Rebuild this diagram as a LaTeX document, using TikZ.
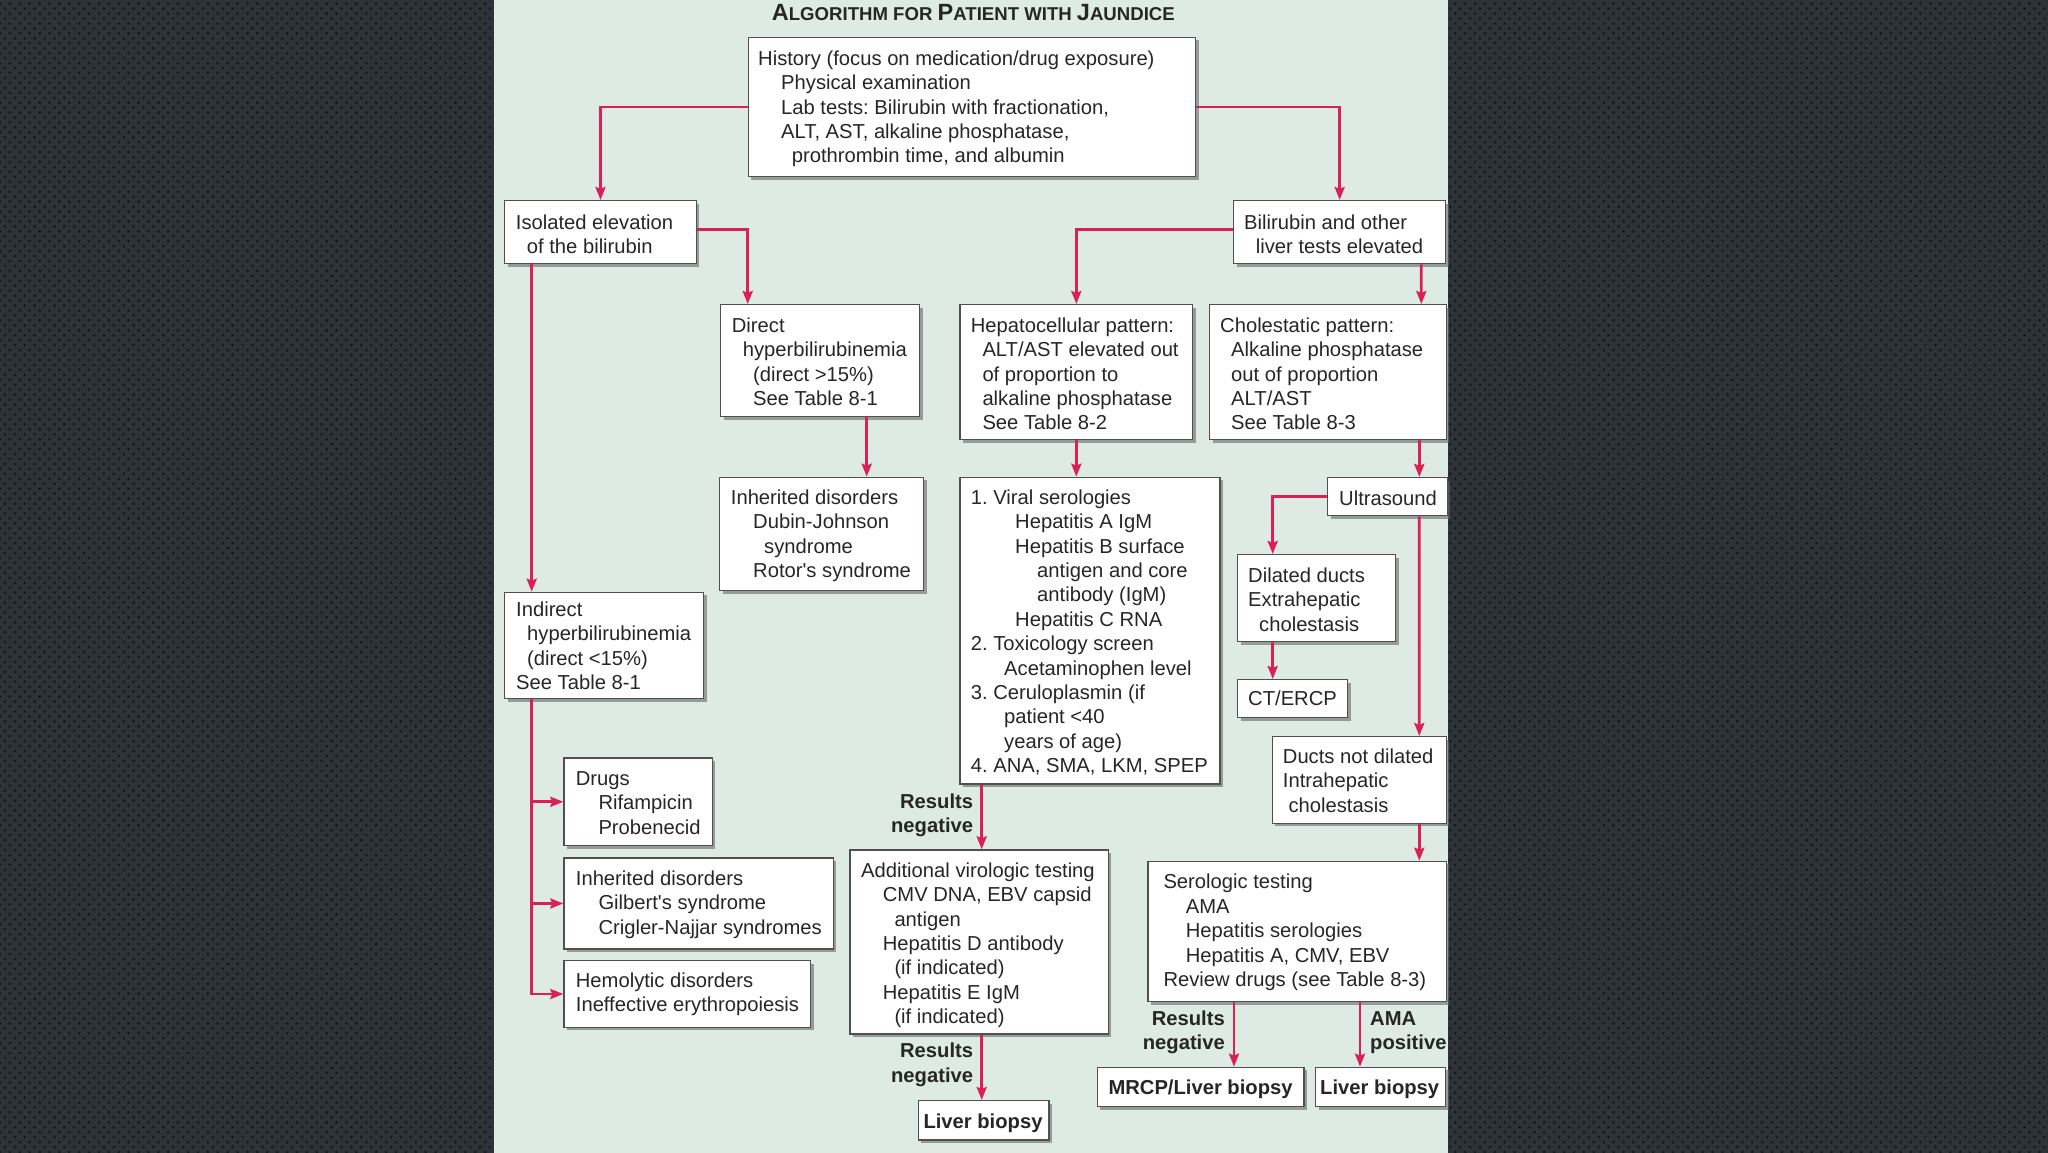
\documentclass[tikz,border=0pt]{standalone}
\usepackage{fontspec}
\setmainfont{Liberation Sans}[Ligatures=TeXOff]
\usetikzlibrary{arrows.meta,shadows,patterns.meta,calc}
\definecolor{bgdark}{RGB}{46,50,57}
\definecolor{dotc}{RGB}{24,27,32}
\definecolor{panel}{RGB}{221,235,228}
\definecolor{arrc}{RGB}{218,32,84}
\definecolor{txtc}{RGB}{38,38,38}
\definecolor{boxc}{RGB}{80,80,80}
\newcommand\fsn{\fontsize{20.2}{24.4}\selectfont}
\newcommand\ind[1]{\hspace*{#1pt}}
\newcommand\bigc[1]{{\fontsize{23.5}{24}\selectfont #1}}
\newcommand\bx[5]{\node[box, minimum width={#4-#2}, minimum height={#5-#3}] (#1) at (#2,#3) {};}
\frenchspacing
\begin{document}
\begin{tikzpicture}[x=1pt,y=-1pt,
  box/.style={draw=boxc, line width=1.3pt, fill=white, inner sep=0pt, anchor=north west,
    drop shadow={shadow xshift=3pt, shadow yshift=-3pt, fill=black!60, opacity=0.6}},
  txt/.style={anchor=north west, inner sep=0pt, align=left, font=\fsn, text=txtc, yshift=17.08pt},
  btxt/.style={txt, font=\fsn\bfseries},
  lbl/.style={inner sep=0pt, font=\fsn\bfseries, text=txtc, yshift=17.08pt},
  arr/.style={draw=arrc, line width=2.8pt, -{Stealth[length=13pt,width=10pt,inset=2pt]}}]
\useasboundingbox (0,0) rectangle (2048,1152);
\fill[bgdark] (-20,-20) rectangle (2068,1172);
\fill[pattern={Dots[distance=7pt,radius=1.7pt,angle=45]}, pattern color=dotc] (-20,-20) rectangle (2068,1172);
\fill[panel] (494,-5) rectangle (1448,1160);

\node[anchor=base west, inner sep=0pt, text=txtc, font=\bfseries\fontsize{18.6}{24}\selectfont] (title) at (771.7,20)
  {\bigc{A}LGORITHM FOR \bigc{P}ATIENT WITH \bigc{J}AUNDICE};

% boxes
\bx{hist}{747.7}{36.7}{1195}{176}
\bx{iso}{504}{200}{695.7}{263}
\bx{bil}{1233}{200}{1445}{263}
\bx{direct}{720}{304}{919}{416}
\bx{inhA}{719}{476.7}{923}{590}
\bx{indirect}{504}{591.7}{703}{698}
\bx{hep}{959.3}{304}{1192}{439}
\bx{chol}{1209}{304}{1445.7}{439}
\bx{viral}{959.3}{476.7}{1219.3}{783.3}
\bx{us}{1327}{477}{1446.7}{515}
\bx{dil}{1237}{554}{1395}{641}
\bx{ct}{1237}{679}{1347}{717}
\bx{notdil}{1271.7}{736}{1445.7}{822.7}
\bx{drugs}{563.3}{757.3}{711.7}{845}
\bx{inhB}{563.3}{857.3}{832.7}{948.3}
\bx{hemo}{563.3}{960}{810}{1026.7}
\bx{addl}{849.3}{849.3}{1107.7}{1033.3}
\bx{lbA}{917.7}{1100}{1048.3}{1139.3}
\bx{serol}{1147.3}{860.7}{1445.7}{1001}
\bx{mrcp}{1096.7}{1066.7}{1303.3}{1106}
\bx{lbB}{1315}{1066.7}{1445}{1106}

% texts
\node[txt] (histT) at (758,65) {\strut History (focus on medication/drug exposure)\\\ind{23}Physical examination\\\ind{23}Lab tests: Bilirubin with fractionation,\\\ind{23}ALT, AST, alkaline phosphatase,\\\ind{33.7}prothrombin time, and albumin};
\node[txt] (isoT) at (515.7,229) {\strut Isolated elevation\\\ind{11}of the bilirubin};
\node[txt] (bilT) at (1244,229) {\strut Bilirubin and other\\\ind{11.7}liver tests elevated};
\node[txt] (directT) at (731.7,332) {\strut Direct\\\ind{11}hyperbilirubinemia\\\ind{21.3}(direct >15\%)\\\ind{21.3}See Table 8-1};
\node[txt] (inhAT) at (730.7,504) {\strut Inherited disorders\\\ind{22.3}Dubin-Johnson\\\ind{33.3}syndrome\\\ind{22.3}Rotor's syndrome};
\node[txt] (indirectT) at (516,616) {\strut Indirect\\\ind{11}hyperbilirubinemia\\\ind{11}(direct <15\%)\\See Table 8-1};
\node[txt] (hepT) at (970.7,332) {\strut Hepatocellular pattern:\\\ind{11.6}ALT/AST elevated out\\\ind{11.6}of proportion to\\\ind{11.6}alkaline phosphatase\\\ind{11.6}See Table 8-2};
\node[txt] (cholT) at (1220,332) {\strut Cholestatic pattern:\\\ind{11}Alkaline phosphatase\\\ind{11}out of proportion\\\ind{11}ALT/AST\\\ind{11}See Table 8-3};
\node[txt] (viralT) at (970.7,504) {\strut 1. Viral serologies\\\ind{44.3}Hepatitis A IgM\\\ind{44.3}Hepatitis B surface\\\ind{66.3}antigen and core\\\ind{66.3}antibody (IgM)\\\ind{44.3}Hepatitis C RNA\\2. Toxicology screen\\\ind{33.3}Acetaminophen level\\3. Ceruloplasmin (if\\\ind{33.3}patient <40\\\ind{33.3}years of age)\\4. ANA, SMA, LKM, SPEP};
\node[txt] (usT) at (1339,505) {\strut Ultrasound};
\node[txt] (dilT) at (1248,582) {\strut Dilated ducts\\Extrahepatic\\\ind{11}cholestasis};
\node[txt] (ctT) at (1248,705) {\strut CT/ERCP};
\node[txt] (notdilT) at (1282.7,763) {\strut Ducts not dilated\\Intrahepatic\\\ind{5.6}cholestasis};
\node[txt] (drugsT) at (575.7,785.3) {\strut Drugs\\\ind{22.6}Rifampicin\\\ind{22.6}Probenecid};
\node[txt] (inhBT) at (575.7,885.3) {\strut Inherited disorders\\\ind{22.6}Gilbert's syndrome\\\ind{22.6}Crigler-Najjar syndromes};
\node[txt] (hemoT) at (575.7,987) {\strut Hemolytic disorders\\Ineffective erythropoiesis};
\node[txt] (addlT) at (861,877) {\strut Additional virologic testing\\\ind{21.7}CMV DNA, EBV capsid\\\ind{33.3}antigen\\\ind{21.7}Hepatitis D antibody\\\ind{33.3}(if indicated)\\\ind{21.7}Hepatitis E IgM\\\ind{33.3}(if indicated)};
\node[txt] (serolT) at (1163.3,888.7) {\strut Serologic testing\\\ind{22.4}AMA\\\ind{22.4}Hepatitis serologies\\\ind{22.4}Hepatitis A, CMV, EBV\\Review drugs (see Table 8-3)};
\node[btxt] (lbAT) at (923.3,1128.5) {\strut Liver biopsy};
\node[btxt] (mrcpT) at (1108.3,1094) {\strut MRCP/Liver biopsy};
\node[btxt] (lbBT) at (1320,1094) {\strut Liver biopsy};

% connectors
\draw[arr] (hist.west) -| (iso.north);
\draw[arr] (hist.east) -| (bil.north);
\draw[arr] ([yshift=2.5pt]iso.east) -| ([xshift=27.7pt]direct.north west);
\draw[arr] ([xshift=27.7pt]iso.south west) -- ([xshift=27.7pt]indirect.north west);
\draw[arr] ([xshift=146.7pt]direct.south west) -- ([xshift=147.7pt]inhA.north west);
\draw[arr] ([yshift=2.5pt]bil.west) -| (hep.north);
\draw[arr] ([xshift=-25pt]bil.south east) -- ([xshift=-25.7pt]chol.north east);
\draw[arr] (hep.south) -- (hep.south |- viral.north);
\draw[arr] ([xshift=-27.7pt]chol.south east) -- ([xshift=-28.7pt]us.north east);
\draw[arr] (us.west) -| ([xshift=35.7pt]dil.north west);
\draw[arr] ([xshift=35.7pt]dil.south west) -- ([xshift=35.7pt]ct.north west);
\draw[arr] ([xshift=-28.7pt]us.south east) -- ([xshift=-27.7pt]notdil.north east);
\draw[arr] ([xshift=-27.7pt]notdil.south east) -- ([xshift=-27.7pt]serol.north east);
\draw[arr] ([xshift=22.4pt]viral.south west) -- ([xshift=132.4pt]addl.north west);
\draw[arr] ([xshift=132.4pt]addl.south west) -- ([xshift=64pt]lbA.north west);
\draw[arr] ([xshift=86.7pt]serol.south west) -- ([xshift=137.3pt]mrcp.north west);
\draw[arr] ([xshift=212.7pt]serol.south west) -- ([xshift=45pt]lbB.north west);
\coordinate (trunk) at ([xshift=27.7pt]indirect.south west);
\draw[arr] (trunk) |- (drugs.west);
\draw[arr] (trunk) |- (inhB.west);
\draw[arr] (trunk) |- (hemo.west);

% labels
\node[lbl, anchor=north east, align=right] (rn1) at (973.3,808) {\strut Results\\negative};
\node[lbl, anchor=north east, align=right] (rn2) at (973.3,1057.7) {\strut Results\\negative};
\node[lbl, anchor=north east, align=right] (rn3) at (1225,1025.3) {\strut Results\\negative};
\node[lbl, anchor=north west, align=left] (amap) at (1370,1025.3) {\strut AMA\\positive};
\end{tikzpicture}
\end{document}
